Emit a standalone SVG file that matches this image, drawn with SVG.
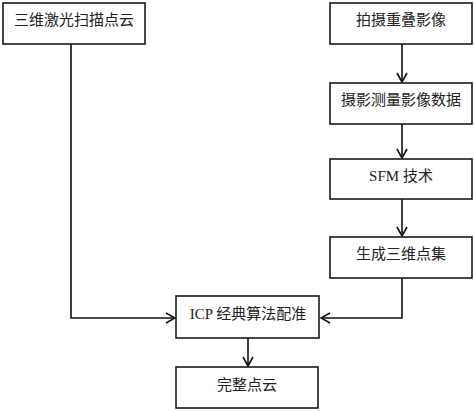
<svg xmlns="http://www.w3.org/2000/svg" width="474" height="411" viewBox="0 0 474 411">
<style>
.box{fill:#fff;stroke:#1a1a1a;stroke-width:1.6}
.t{font-family:"Liberation Serif","Noto Sans CJK SC",serif;font-size:15px;fill:#222;text-anchor:middle}
.c{fill:none;stroke:#111;stroke-width:1.6}
</style>
<defs>
<marker id="a" viewBox="0 0 12 12" refX="11" refY="6" markerWidth="12" markerHeight="12" markerUnits="userSpaceOnUse" orient="auto">
<path d="M2,1 L11,6 L2,11" fill="none" stroke="#111" stroke-width="1.6"/>
</marker>
</defs>
<rect width="474" height="411" fill="#fff"/>
<g id="connectors">
<path class="c" d="M71,44 V318 H175" marker-end="url(#a)"/>
<path class="c" d="M402,278 V318 H321" marker-end="url(#a)"/>
<path class="c" d="M402,44 V82" marker-end="url(#a)"/>
<path class="c" d="M402,124 V158" marker-end="url(#a)"/>
<path class="c" d="M402,199 V236" marker-end="url(#a)"/>
<path class="c" d="M248,338 V366" marker-end="url(#a)"/>
</g>
<g id="laser"><rect class="box" x="3" y="3" width="142" height="41"/><text class="t" x="74" y="25">三维激光扫描点云</text></g>
<g id="photo"><rect class="box" x="330" y="3" width="142" height="41"/><text class="t" x="401" y="25">拍摄重叠影像</text></g>
<g id="data"><rect class="box" x="330" y="83" width="142" height="41"/><text class="t" x="401" y="105">摄影测量影像数据</text></g>
<g id="sfm"><rect class="box" x="330" y="159" width="142" height="40"/><text class="t" x="401" y="181">SFM 技术</text></g>
<g id="gen"><rect class="box" x="330" y="237" width="142" height="41"/><text class="t" x="401" y="259">生成三维点集</text></g>
<g id="icp"><rect class="box" x="176" y="296" width="143" height="42"/><text class="t" x="248" y="319">ICP 经典算法配准</text></g>
<g id="full"><rect class="box" x="176" y="367" width="142" height="41"/><text class="t" x="247" y="390">完整点云</text></g>
</svg>
